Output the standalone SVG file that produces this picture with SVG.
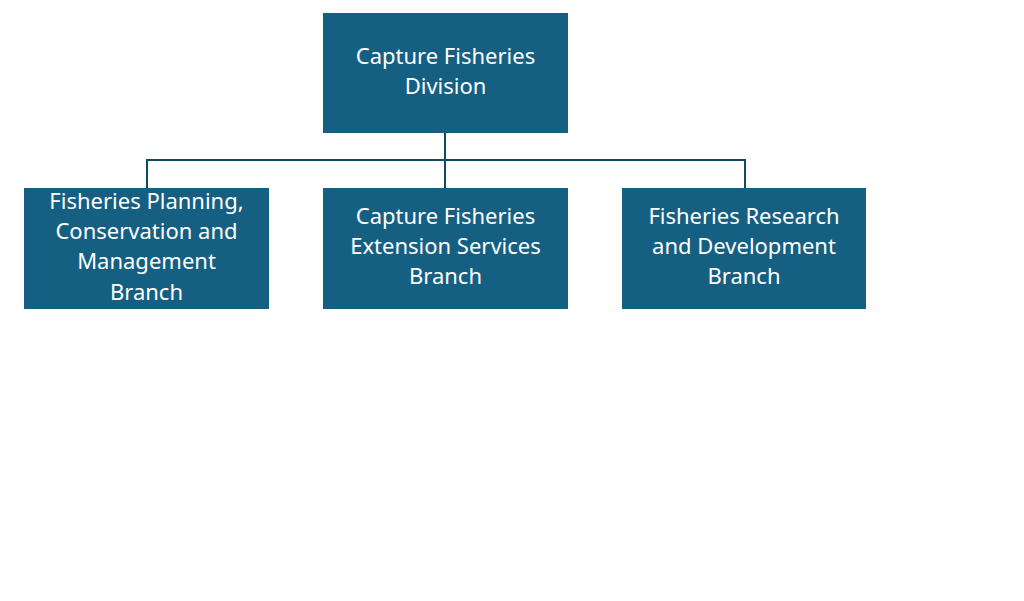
<svg xmlns="http://www.w3.org/2000/svg" width="1024" height="601" viewBox="0 0 1024 601">
<style>
.box{fill:#156082}
.t{font-family:"Noto Sans","Liberation Sans",sans-serif;font-size:22px;fill:#fff;text-anchor:middle}
.c{stroke:#0e4a66;stroke-width:2;fill:none}
</style>
<rect width="1024" height="601" fill="#fff"/>
<g id="connectors">
<path class="c" d="M445 133V160M147 188V160H745V188M445 160V188"/>
</g>
<g id="n0"><rect class="box" x="323" y="13" width="245" height="120"/><text class="t" x="445.5" y="64">Capture Fisheries</text><text class="t" x="445.5" y="94">Division</text></g>
<g id="n1"><rect class="box" x="24" y="188" width="245" height="121"/><text class="t" x="146.5" y="209">Fisheries Planning,</text><text class="t" x="146.5" y="239">Conservation and</text><text class="t" x="146.5" y="269">Management</text><text class="t" x="146.5" y="300">Branch</text></g>
<g id="n2"><rect class="box" x="323" y="188" width="245" height="121"/><text class="t" x="445.5" y="224">Capture Fisheries</text><text class="t" x="445.5" y="254">Extension Services</text><text class="t" x="445.5" y="284">Branch</text></g>
<g id="n3"><rect class="box" x="622" y="188" width="244" height="121"/><text class="t" x="744" y="224">Fisheries Research</text><text class="t" x="744" y="254">and Development</text><text class="t" x="744" y="284">Branch</text></g>
</svg>
